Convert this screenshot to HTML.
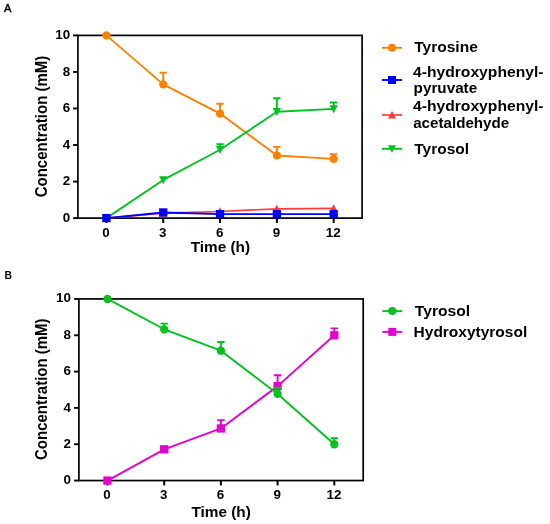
<!DOCTYPE html>
<html><head><meta charset="utf-8"><title>Figure</title>
<style>html,body{margin:0;padding:0;background:#fff}svg{display:block}</style></head><body>
<svg style="filter:blur(0.4px)" width="550" height="524" viewBox="0 0 550 524" font-family="'Liberation Sans', Arial, sans-serif" font-weight="bold" fill="#000">
<rect width="550" height="524" fill="#fff"/>
<text x="3.9" y="11.6" font-size="11.1" text-anchor="start" font-weight="normal" stroke="#000" stroke-width="0.45">A</text>
<text x="4.5" y="279.2" font-size="11.6" text-anchor="start" textLength="7.5" lengthAdjust="spacingAndGlyphs">B</text>
<line x1="73.10" y1="218.10" x2="77.90" y2="218.10" stroke="#000" stroke-width="1.9"/>
<line x1="73.10" y1="181.56" x2="77.90" y2="181.56" stroke="#000" stroke-width="1.9"/>
<line x1="73.10" y1="145.02" x2="77.90" y2="145.02" stroke="#000" stroke-width="1.9"/>
<line x1="73.10" y1="108.48" x2="77.90" y2="108.48" stroke="#000" stroke-width="1.9"/>
<line x1="73.10" y1="71.94" x2="77.90" y2="71.94" stroke="#000" stroke-width="1.9"/>
<line x1="73.10" y1="35.40" x2="77.90" y2="35.40" stroke="#000" stroke-width="1.9"/>
<line x1="106.40" y1="218.10" x2="106.40" y2="223.00" stroke="#000" stroke-width="2"/>
<line x1="163.23" y1="218.10" x2="163.23" y2="223.00" stroke="#000" stroke-width="2"/>
<line x1="220.05" y1="218.10" x2="220.05" y2="223.00" stroke="#000" stroke-width="2"/>
<line x1="276.88" y1="218.10" x2="276.88" y2="223.00" stroke="#000" stroke-width="2"/>
<line x1="333.70" y1="218.10" x2="333.70" y2="223.00" stroke="#000" stroke-width="2"/>
<rect x="77.90" y="35.40" width="284.20" height="182.70" fill="none" stroke="#000" stroke-width="1.7"/>
<text x="70.20" y="221.90" font-size="13.4" text-anchor="end">0</text>
<text x="70.20" y="185.36" font-size="13.4" text-anchor="end">2</text>
<text x="70.20" y="148.82" font-size="13.4" text-anchor="end">4</text>
<text x="70.20" y="112.28" font-size="13.4" text-anchor="end">6</text>
<text x="70.20" y="75.74" font-size="13.4" text-anchor="end">8</text>
<text x="70.20" y="38.60" font-size="13.4" text-anchor="end">10</text>
<text x="106.00" y="236.70" font-size="13.4" text-anchor="middle">0</text>
<text x="162.83" y="236.70" font-size="13.4" text-anchor="middle">3</text>
<text x="219.65" y="236.70" font-size="13.4" text-anchor="middle">6</text>
<text x="276.48" y="236.70" font-size="13.4" text-anchor="middle">9</text>
<text x="333.30" y="236.70" font-size="13.4" text-anchor="middle">12</text>
<path d="M106.40 35.40 L163.23 84.36 L220.05 113.60 L276.88 155.43 L333.70 158.91" fill="none" stroke="#FF8000" stroke-width="1.9" stroke-linejoin="round"/>
<path d="M163.23 84.36V72.67M159.53 72.67H166.93" fill="none" stroke="#FF8000" stroke-width="1.9"/>
<path d="M220.05 113.60V103.73M216.35 103.73H223.75" fill="none" stroke="#FF8000" stroke-width="1.9"/>
<path d="M276.88 155.43V146.85M273.18 146.85H280.57" fill="none" stroke="#FF8000" stroke-width="1.9"/>
<path d="M333.70 158.91V154.16M330.00 154.16H337.40" fill="none" stroke="#FF8000" stroke-width="1.9"/>
<circle cx="106.40" cy="35.40" r="4.15" fill="#FF8000"/>
<circle cx="163.23" cy="84.36" r="4.15" fill="#FF8000"/>
<circle cx="220.05" cy="113.60" r="4.15" fill="#FF8000"/>
<circle cx="276.88" cy="155.43" r="4.15" fill="#FF8000"/>
<circle cx="333.70" cy="158.91" r="4.15" fill="#FF8000"/>
<path d="M106.40 218.10 L163.23 179.92 L220.05 149.77 L276.88 111.77 L333.70 108.85" fill="none" stroke="#00C31E" stroke-width="1.9" stroke-linejoin="round"/>
<path d="M220.05 149.77V144.29M216.35 144.29H223.75" fill="none" stroke="#00C31E" stroke-width="1.9"/>
<path d="M276.88 111.77V98.25M273.18 98.25H280.57" fill="none" stroke="#00C31E" stroke-width="1.9"/>
<path d="M333.70 108.85V102.45M330.00 102.45H337.40" fill="none" stroke="#00C31E" stroke-width="1.9"/>
<path d="M106.40 222.45L110.55 214.45H102.25Z" fill="#00C31E"/>
<path d="M163.23 184.27L167.38 176.27H159.08Z" fill="#00C31E"/>
<path d="M220.05 154.12L224.20 146.12H215.90Z" fill="#00C31E"/>
<path d="M276.88 116.12L281.02 108.12H272.73Z" fill="#00C31E"/>
<path d="M333.70 113.20L337.85 105.20H329.55Z" fill="#00C31E"/>
<path d="M106.40 218.10 L163.23 213.17 L220.05 211.52 L276.88 208.78 L333.70 208.42" fill="none" stroke="#FF3A3A" stroke-width="1.7" stroke-linejoin="round"/>
<path d="M106.40 213.95L110.55 221.65H102.25Z" fill="#FF3A3A"/>
<path d="M163.23 209.02L167.38 216.72H159.08Z" fill="#FF3A3A"/>
<path d="M220.05 207.37L224.20 215.07H215.90Z" fill="#FF3A3A"/>
<path d="M276.88 204.63L281.02 212.33H272.73Z" fill="#FF3A3A"/>
<path d="M333.70 204.27L337.85 211.97H329.55Z" fill="#FF3A3A"/>
<path d="M106.40 218.10 L163.23 212.44 L220.05 214.08 L276.88 214.08 L333.70 214.08" fill="none" stroke="#0000FF" stroke-width="1.9" stroke-linejoin="round"/>
<rect x="102.25" y="213.95" width="8.30" height="8.30" fill="#0000FF"/>
<rect x="159.08" y="208.29" width="8.30" height="8.30" fill="#0000FF"/>
<rect x="215.90" y="209.93" width="8.30" height="8.30" fill="#0000FF"/>
<rect x="272.73" y="209.93" width="8.30" height="8.30" fill="#0000FF"/>
<rect x="329.55" y="209.93" width="8.30" height="8.30" fill="#0000FF"/>
<text x="190.7" y="252.3" font-size="15" text-anchor="start" textLength="59.3" lengthAdjust="spacingAndGlyphs">Time (h)</text>
<text transform="translate(47.2 197.3) rotate(-90)" font-size="16" textLength="141.6" lengthAdjust="spacingAndGlyphs">Concentration (mM)</text>
<line x1="382" y1="47.8" x2="402" y2="47.8" stroke="#FF8000" stroke-width="1.9"/>
<circle cx="392.00" cy="47.80" r="4.00" fill="#FF8000"/>
<text x="414.2" y="51.9" font-size="15" text-anchor="start" textLength="63.6" lengthAdjust="spacingAndGlyphs">Tyrosine</text>
<line x1="382" y1="80" x2="402" y2="80" stroke="#0000FF" stroke-width="1.9"/>
<rect x="388.00" y="76.00" width="8.00" height="8.00" fill="#0000FF"/>
<text x="413.0" y="76.8" font-size="15" text-anchor="start" textLength="130.5" lengthAdjust="spacingAndGlyphs">4-hydroxyphenyl-</text>
<text x="413.6" y="93.1" font-size="15" text-anchor="start" textLength="63.6" lengthAdjust="spacingAndGlyphs">pyruvate</text>
<line x1="382" y1="115" x2="402" y2="115" stroke="#FF3A3A" stroke-width="1.7"/>
<path d="M392.00 111.00L396.00 118.40H388.00Z" fill="#FF3A3A"/>
<text x="413.0" y="110.8" font-size="15" text-anchor="start" textLength="130.5" lengthAdjust="spacingAndGlyphs">4-hydroxyphenyl-</text>
<text x="413.2" y="128.0" font-size="15" text-anchor="start" textLength="96" lengthAdjust="spacingAndGlyphs">acetaldehyde</text>
<line x1="382" y1="148.8" x2="402" y2="148.8" stroke="#00C31E" stroke-width="1.9"/>
<path d="M392.00 153.00L396.00 145.30H388.00Z" fill="#00C31E"/>
<text x="414.3" y="153.6" font-size="15" text-anchor="start" textLength="54.8" lengthAdjust="spacingAndGlyphs">Tyrosol</text>
<line x1="74.10" y1="480.55" x2="78.90" y2="480.55" stroke="#000" stroke-width="1.9"/>
<line x1="74.10" y1="444.23" x2="78.90" y2="444.23" stroke="#000" stroke-width="1.9"/>
<line x1="74.10" y1="407.91" x2="78.90" y2="407.91" stroke="#000" stroke-width="1.9"/>
<line x1="74.10" y1="371.59" x2="78.90" y2="371.59" stroke="#000" stroke-width="1.9"/>
<line x1="74.10" y1="335.27" x2="78.90" y2="335.27" stroke="#000" stroke-width="1.9"/>
<line x1="74.10" y1="298.95" x2="78.90" y2="298.95" stroke="#000" stroke-width="1.9"/>
<line x1="107.50" y1="480.55" x2="107.50" y2="485.45" stroke="#000" stroke-width="2"/>
<line x1="164.20" y1="480.55" x2="164.20" y2="485.45" stroke="#000" stroke-width="2"/>
<line x1="220.90" y1="480.55" x2="220.90" y2="485.45" stroke="#000" stroke-width="2"/>
<line x1="277.60" y1="480.55" x2="277.60" y2="485.45" stroke="#000" stroke-width="2"/>
<line x1="334.30" y1="480.55" x2="334.30" y2="485.45" stroke="#000" stroke-width="2"/>
<rect x="78.90" y="298.95" width="284.30" height="181.60" fill="none" stroke="#000" stroke-width="1.7"/>
<text x="71.00" y="484.35" font-size="13.4" text-anchor="end">0</text>
<text x="71.00" y="448.03" font-size="13.4" text-anchor="end">2</text>
<text x="71.00" y="411.71" font-size="13.4" text-anchor="end">4</text>
<text x="71.00" y="375.39" font-size="13.4" text-anchor="end">6</text>
<text x="71.00" y="339.07" font-size="13.4" text-anchor="end">8</text>
<text x="71.00" y="302.15" font-size="13.4" text-anchor="end">10</text>
<text x="107.10" y="499.00" font-size="13.4" text-anchor="middle">0</text>
<text x="163.80" y="499.00" font-size="13.4" text-anchor="middle">3</text>
<text x="220.50" y="499.00" font-size="13.4" text-anchor="middle">6</text>
<text x="277.20" y="499.00" font-size="13.4" text-anchor="middle">9</text>
<text x="333.90" y="499.00" font-size="13.4" text-anchor="middle">12</text>
<path d="M107.50 480.55 L164.20 449.31 L220.90 428.43 L277.60 386.12 L334.30 335.27" fill="none" stroke="#E600D0" stroke-width="1.9" stroke-linejoin="round"/>
<path d="M220.90 428.43V420.08M217.20 420.08H224.60" fill="none" stroke="#E600D0" stroke-width="1.9"/>
<path d="M277.60 386.12V375.22M273.90 375.22H281.30" fill="none" stroke="#E600D0" stroke-width="1.9"/>
<path d="M334.30 335.27V328.37M330.60 328.37H338.00" fill="none" stroke="#E600D0" stroke-width="1.9"/>
<rect x="103.35" y="476.40" width="8.30" height="8.30" fill="#E600D0"/>
<rect x="160.05" y="445.16" width="8.30" height="8.30" fill="#E600D0"/>
<rect x="216.75" y="424.28" width="8.30" height="8.30" fill="#E600D0"/>
<rect x="273.45" y="381.97" width="8.30" height="8.30" fill="#E600D0"/>
<rect x="330.15" y="331.12" width="8.30" height="8.30" fill="#E600D0"/>
<path d="M107.50 298.95 L164.20 329.28 L220.90 350.71 L277.60 393.93 L334.30 444.23" fill="none" stroke="#00C31E" stroke-width="1.9" stroke-linejoin="round"/>
<path d="M164.20 329.28V323.65M160.50 323.65H167.90" fill="none" stroke="#00C31E" stroke-width="1.9"/>
<path d="M220.90 350.71V341.99M217.20 341.99H224.60" fill="none" stroke="#00C31E" stroke-width="1.9"/>
<path d="M277.60 393.93V387.75M273.90 387.75H281.30" fill="none" stroke="#00C31E" stroke-width="1.9"/>
<path d="M334.30 444.23V438.24M330.60 438.24H338.00" fill="none" stroke="#00C31E" stroke-width="1.9"/>
<circle cx="107.50" cy="298.95" r="4.15" fill="#00C31E"/>
<circle cx="164.20" cy="329.28" r="4.15" fill="#00C31E"/>
<circle cx="220.90" cy="350.71" r="4.15" fill="#00C31E"/>
<circle cx="277.60" cy="393.93" r="4.15" fill="#00C31E"/>
<circle cx="334.30" cy="444.23" r="4.15" fill="#00C31E"/>
<text x="191.5" y="517.1" font-size="15" text-anchor="start" textLength="59.3" lengthAdjust="spacingAndGlyphs">Time (h)</text>
<text transform="translate(46.8 460.0) rotate(-90)" font-size="16" textLength="141.6" lengthAdjust="spacingAndGlyphs">Concentration (mM)</text>
<line x1="382.3" y1="311.1" x2="402.3" y2="311.1" stroke="#00C31E" stroke-width="1.9"/>
<circle cx="392.30" cy="311.10" r="4.00" fill="#00C31E"/>
<text x="414.8" y="315.5" font-size="15" text-anchor="start" textLength="55.4" lengthAdjust="spacingAndGlyphs">Tyrosol</text>
<line x1="382.3" y1="331.9" x2="402.3" y2="331.9" stroke="#E600D0" stroke-width="1.9"/>
<rect x="388.30" y="327.90" width="8.00" height="8.00" fill="#E600D0"/>
<text x="413.6" y="336.7" font-size="15" text-anchor="start" textLength="113.6" lengthAdjust="spacingAndGlyphs">Hydroxytyrosol</text>
</svg></body></html>
